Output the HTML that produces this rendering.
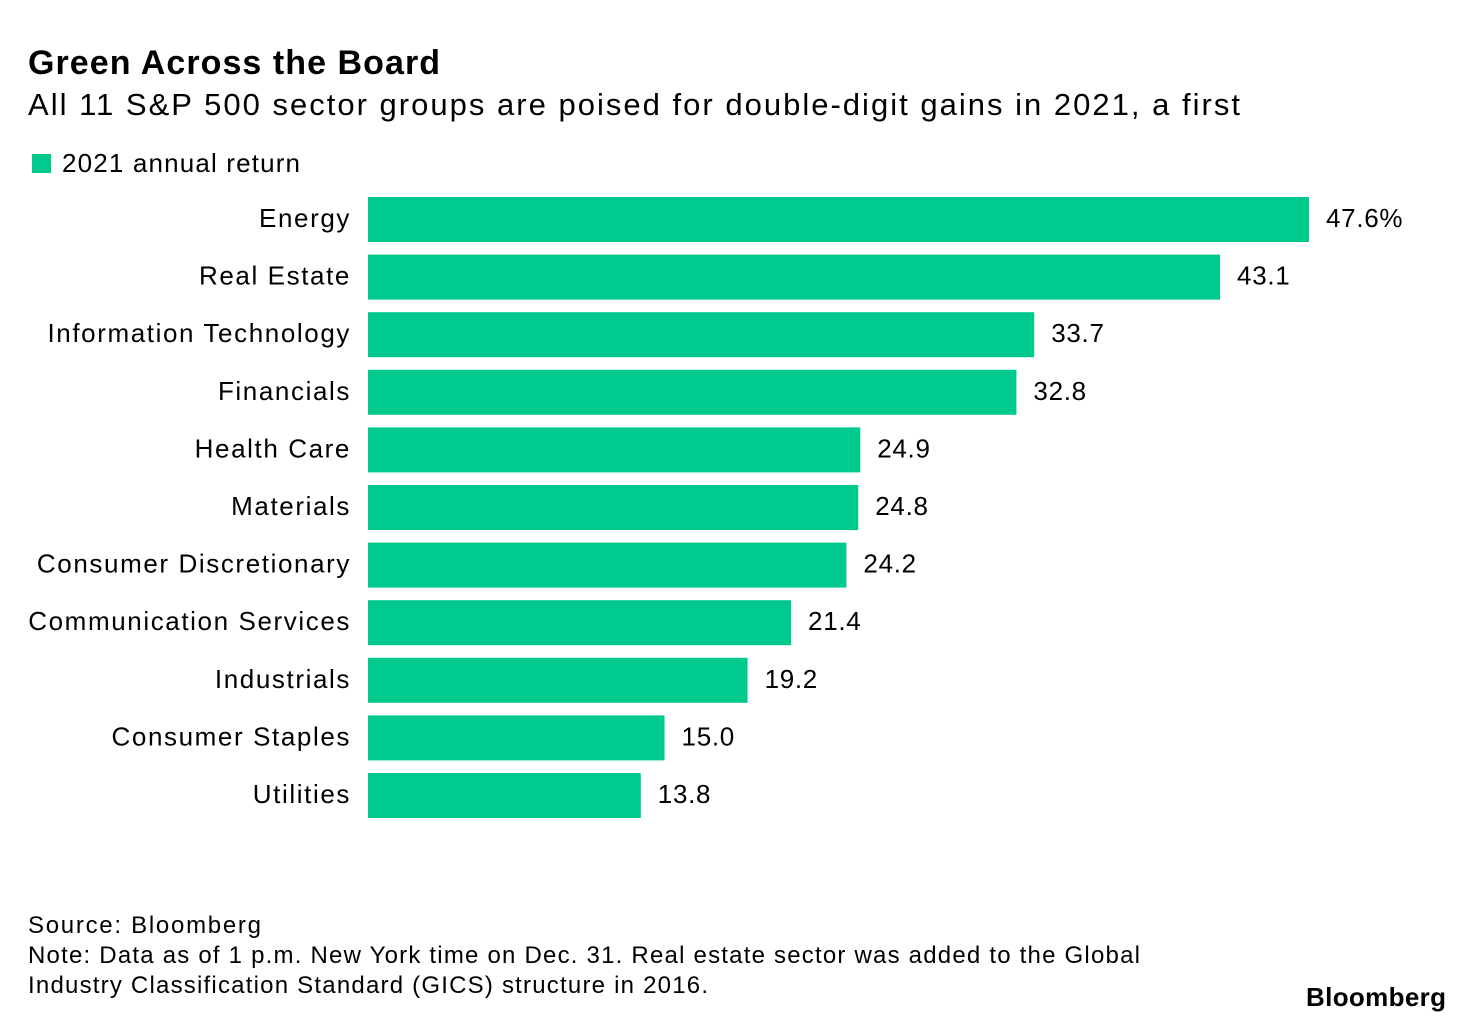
<!DOCTYPE html>
<html><head><meta charset="utf-8"><style>
body{margin:0;background:#fff;width:1474px;height:1024px;overflow:hidden;font-family:"Liberation Sans",sans-serif;}
svg text{font-family:"Liberation Sans",sans-serif;fill:#000;}
</style></head><body>
<svg id="chart" width="1474" height="1024">
<text x="28" y="74" font-size="34" font-weight="bold" textLength="412" lengthAdjust="spacing">Green Across the Board</text>
<text x="28" y="115" font-size="31" textLength="1212" lengthAdjust="spacing">All 11 S&amp;P 500 sector groups are poised for double-digit gains in 2021, a first</text>
<rect x="32" y="154" width="19" height="19" fill="#00c98d"/>
<text x="62" y="172" font-size="26" textLength="238" lengthAdjust="spacing">2021 annual return</text>
<g id="bars"></g>
<text x="28" y="933" font-size="24" textLength="233" lengthAdjust="spacing">Source: Bloomberg</text>
<text x="28" y="963" font-size="24" textLength="1112" lengthAdjust="spacing">Note: Data as of 1 p.m. New York time on Dec. 31. Real estate sector was added to the Global</text>
<text x="28" y="993" font-size="24" textLength="680" lengthAdjust="spacing">Industry Classification Standard (GICS) structure in 2016.</text>
<text x="1306" y="1006" font-size="26" font-weight="bold" textLength="140" lengthAdjust="spacing">Bloomberg</text>
</svg>
<script>
const categories=["Energy","Real Estate","Information Technology","Financials","Health Care","Materials","Consumer Discretionary","Communication Services","Industrials","Consumer Staples","Utilities"];
const values=[47.6,43.1,33.7,32.8,24.9,24.8,24.2,21.4,19.2,15.0,13.8];
const valueLabels=["47.6%","43.1","33.7","32.8","24.9","24.8","24.2","21.4","19.2","15.0","13.8"];
const x0=368,pxPer=(1309-368)/47.6,y0=197,step=57.6,bh=45;
const xs=v=>x0+v*pxPer, ys=i=>y0+i*step;
const g=document.getElementById('bars'),NS="http://www.w3.org/2000/svg";
categories.forEach((c,i)=>{
 const r=document.createElementNS(NS,'rect');
 r.setAttribute('x',x0);r.setAttribute('y',ys(i));r.setAttribute('width',xs(values[i])-x0);r.setAttribute('height',bh);r.setAttribute('fill','#00c98d');
 
 
 g.appendChild(r);
 const t=document.createElementNS(NS,'text');
 t.setAttribute('x',351);t.setAttribute('y',ys(i)+30);t.setAttribute('font-size','26');t.setAttribute('text-anchor','end');t.setAttribute('letter-spacing','1.6');t.textContent=c;
 
 
 g.appendChild(t);
 const v=document.createElementNS(NS,'text');
 v.setAttribute('x',xs(values[i])+17);v.setAttribute('y',ys(i)+30);v.setAttribute('font-size','26');v.setAttribute('letter-spacing','0.7');v.textContent=valueLabels[i];
 
 
 g.appendChild(v);
});
</script>
</body></html>
